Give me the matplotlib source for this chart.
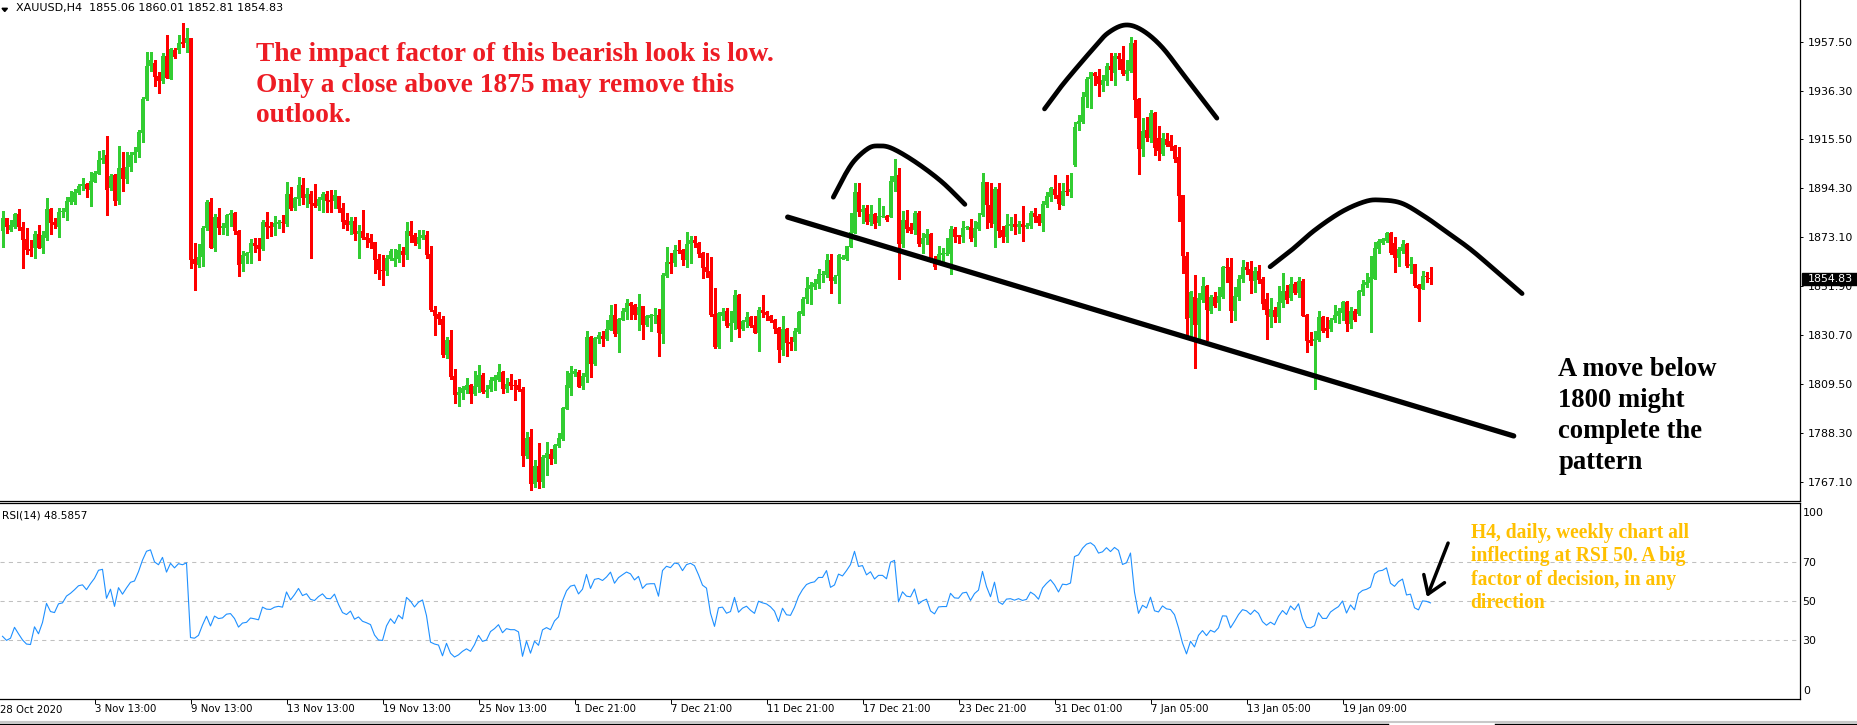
import numpy as np
import matplotlib
matplotlib.use("Agg")
import matplotlib.pyplot as plt
from matplotlib.patches import Rectangle, Polygon
from matplotlib.lines import Line2D
from matplotlib.transforms import blended_transform_factory

# ---------------- data (XAUUSD H4 candles) ----------------
OPEN = [
    1875.6, 1881.3, 1876.0, 1877.5, 1882.9, 1877.5, 1872.0, 1867.8, 1868.4, 1874.5,
    1868.4, 1872.7, 1885.1, 1879.3, 1877.5, 1883.6, 1883.9, 1888.3, 1888.3, 1892.2,
    1895.2, 1895.9, 1893.5, 1896.9, 1900.3, 1906.4, 1908.4, 1894.0, 1899.8, 1888.7,
    1902.7, 1898.2, 1903.1, 1908.4, 1909.6, 1918.1, 1932.5, 1947.0, 1948.4, 1942.7,
    1940.6, 1951.3, 1941.3, 1953.9, 1953.9, 1957.2, 1956.8, 1959.0, 1863.3, 1860.9,
    1864.5, 1876.7, 1888.0, 1868.4, 1881.8, 1877.0, 1877.0, 1882.5, 1883.2, 1875.6,
    1861.2, 1864.8, 1865.9, 1870.5, 1869.5, 1867.8, 1879.6, 1877.7, 1877.2, 1878.8,
    1879.2, 1878.5, 1891.6, 1885.4, 1889.4, 1895.5, 1890.0, 1891.6, 1887.5, 1886.5,
    1888.8, 1891.6, 1889.0, 1888.5, 1890.7, 1885.4, 1880.3, 1878.2, 1880.0, 1874.5,
    1875.6, 1872.8, 1872.4, 1870.8, 1863.5, 1858.7, 1858.4, 1863.5, 1862.8, 1863.5,
    1866.9, 1865.2, 1875.6, 1873.9, 1870.1, 1872.7, 1873.9, 1865.6, 1841.4, 1839.7,
    1837.5, 1821.9, 1828.4, 1812.8, 1804.6, 1805.3, 1806.8, 1809.0, 1805.2, 1808.2,
    1813.3, 1806.1, 1807.1, 1810.8, 1811.1, 1814.6, 1807.2, 1810.1, 1809.0, 1808.8,
    1807.1, 1778.2, 1786.6, 1766.3, 1773.9, 1767.0, 1777.5, 1779.1, 1776.9, 1782.7,
    1785.7, 1798.7, 1807.7, 1813.9, 1814.6, 1808.5, 1812.6, 1829.7, 1818.0, 1828.9,
    1830.2, 1828.9, 1832.8, 1839.2, 1831.0, 1837.1, 1840.5, 1844.4, 1843.6, 1839.2,
    1843.1, 1834.9, 1837.9, 1838.8, 1839.2, 1831.2, 1856.1, 1862.2, 1861.7, 1867.4,
    1867.4, 1863.0, 1870.0, 1871.7, 1870.4, 1866.1, 1860.0, 1858.3, 1839.7, 1825.4,
    1838.8, 1841.0, 1834.6, 1835.6, 1847.9, 1833.2, 1836.4, 1838.5, 1834.9, 1831.6,
    1841.4, 1840.7, 1839.0, 1837.1, 1833.8, 1824.1, 1833.2, 1827.7, 1827.7, 1831.7,
    1839.7, 1846.2, 1850.5, 1851.5, 1852.7, 1856.7, 1856.7, 1863.0, 1853.9, 1856.1,
    1863.5, 1863.5, 1868.8, 1874.9, 1892.6, 1884.0, 1885.5, 1879.6, 1882.9, 1878.9,
    1881.5, 1882.1, 1881.8, 1896.9, 1899.8, 1870.0, 1880.3, 1877.2, 1876.0, 1883.5,
    1869.8, 1872.4, 1874.3, 1863.0, 1862.7, 1865.3, 1865.5, 1865.5, 1876.3, 1873.7,
    1873.1, 1876.9, 1877.2, 1872.6, 1876.3, 1882.5, 1896.8, 1886.8, 1878.6, 1893.6,
    1876.0, 1872.8, 1877.7, 1878.6, 1877.2, 1878.6, 1877.2, 1877.7, 1883.5, 1882.1,
    1878.9, 1886.8, 1890.4, 1893.8, 1891.2, 1886.8, 1893.0, 1892.6, 1904.1, 1921.7,
    1922.9, 1933.4, 1941.4, 1944.1, 1942.7, 1938.8, 1940.5, 1947.1, 1944.1, 1951.3,
    1950.0, 1943.5, 1945.0, 1957.1, 1932.7, 1911.1, 1919.3, 1915.7, 1926.8, 1915.7,
    1908.9, 1915.4, 1914.5, 1912.4, 1907.8, 1891.2, 1864.8, 1838.1, 1846.9, 1834.9,
    1845.7, 1851.8, 1841.0, 1846.9, 1844.3, 1846.9, 1860.0, 1859.9, 1841.0, 1847.2,
    1854.7, 1860.2, 1859.1, 1854.1, 1858.3, 1855.0, 1846.2, 1838.5, 1841.4, 1838.5,
    1844.3, 1849.8, 1846.7, 1852.7, 1848.6, 1853.9, 1839.2, 1828.4, 1828.0, 1828.4,
    1838.5, 1833.5, 1833.0, 1837.1, 1839.0, 1840.3, 1845.0, 1835.3, 1841.1, 1839.7,
    1849.3, 1852.2, 1852.9, 1855.0, 1867.8, 1870.5, 1871.4, 1874.6, 1870.5, 1864.0,
    1867.1, 1870.1, 1860.6, 1861.2, 1852.2, 1850.3, 1856.1, 1855.06,
]
HIGH = [
    1884.2, 1881.3, 1880.3, 1883.4, 1885.1, 1879.3, 1876.7, 1871.7, 1875.6, 1878.2,
    1875.6, 1890.0, 1885.7, 1881.0, 1885.7, 1885.7, 1890.4, 1892.9, 1893.6, 1895.9,
    1898.4, 1896.2, 1900.9, 1901.5, 1910.2, 1910.6, 1916.8, 1900.1, 1900.1, 1912.4,
    1909.9, 1909.9, 1909.9, 1911.8, 1919.3, 1933.4, 1952.9, 1952.9, 1949.6, 1944.5,
    1952.5, 1960.4, 1954.9, 1954.6, 1960.4, 1965.4, 1963.3, 1959.0, 1870.5, 1869.8,
    1877.9, 1889.0, 1890.0, 1882.8, 1885.7, 1878.9, 1882.8, 1884.7, 1883.6, 1876.0,
    1866.9, 1866.4, 1872.1, 1872.7, 1872.7, 1880.3, 1883.9, 1879.6, 1882.2, 1880.3,
    1882.5, 1896.9, 1894.8, 1890.4, 1899.1, 1898.4, 1894.0, 1893.0, 1895.8, 1890.4,
    1892.3, 1892.9, 1893.3, 1893.3, 1890.9, 1887.5, 1883.5, 1881.8, 1881.8, 1878.2,
    1884.7, 1874.6, 1874.3, 1870.8, 1865.5, 1865.2, 1865.2, 1867.8, 1867.8, 1870.0,
    1868.8, 1879.5, 1879.9, 1874.6, 1876.0, 1876.0, 1875.6, 1869.1, 1843.1, 1840.4,
    1838.8, 1829.9, 1832.8, 1815.9, 1807.9, 1808.5, 1811.8, 1809.4, 1815.2, 1817.6,
    1814.0, 1809.0, 1812.6, 1813.3, 1818.0, 1815.2, 1811.8, 1813.7, 1811.1, 1811.5,
    1807.9, 1788.8, 1789.9, 1776.5, 1783.9, 1778.8, 1784.3, 1781.1, 1783.4, 1788.2,
    1799.6, 1815.2, 1817.3, 1815.9, 1815.4, 1814.0, 1832.3, 1830.2, 1829.7, 1831.7,
    1832.3, 1837.1, 1843.6, 1844.0, 1837.8, 1842.3, 1846.3, 1845.0, 1844.0, 1848.3,
    1843.1, 1839.2, 1839.7, 1842.3, 1841.8, 1857.4, 1868.7, 1865.9, 1869.5, 1871.7,
    1867.8, 1875.2, 1873.4, 1873.4, 1870.8, 1866.5, 1866.1, 1864.3, 1850.9, 1840.6,
    1842.1, 1842.1, 1841.1, 1850.1, 1848.3, 1837.1, 1840.4, 1839.0, 1838.8, 1842.8,
    1847.9, 1841.1, 1839.2, 1837.4, 1834.2, 1838.8, 1833.5, 1829.9, 1833.5, 1841.0,
    1846.9, 1855.5, 1853.7, 1854.7, 1859.0, 1858.4, 1865.6, 1865.6, 1856.5, 1865.5,
    1865.2, 1869.2, 1883.5, 1896.5, 1896.2, 1886.8, 1886.7, 1886.8, 1883.2, 1889.7,
    1886.4, 1882.5, 1899.4, 1906.7, 1902.7, 1884.4, 1884.7, 1879.2, 1884.2, 1884.2,
    1874.9, 1876.3, 1874.6, 1864.8, 1869.1, 1868.1, 1872.4, 1877.7, 1877.2, 1873.8,
    1879.8, 1877.7, 1880.6, 1879.9, 1883.5, 1900.5, 1896.9, 1896.2, 1894.8, 1896.5,
    1877.7, 1882.9, 1881.8, 1882.9, 1880.1, 1886.4, 1879.2, 1884.2, 1885.4, 1882.9,
    1888.7, 1892.6, 1894.8, 1899.8, 1896.2, 1896.5, 1899.8, 1900.5, 1922.9, 1925.8,
    1935.9, 1942.4, 1944.5, 1944.5, 1945.5, 1943.1, 1948.4, 1952.8, 1952.5, 1952.5,
    1955.6, 1949.6, 1959.7, 1958.2, 1933.0, 1924.6, 1925.1, 1928.0, 1927.1, 1921.0,
    1918.1, 1917.9, 1917.1, 1912.8, 1912.1, 1891.2, 1866.4, 1849.8, 1856.6, 1848.6,
    1855.5, 1852.2, 1847.9, 1849.3, 1851.5, 1860.4, 1863.8, 1863.8, 1851.5, 1856.6,
    1863.0, 1862.3, 1862.8, 1860.2, 1860.9, 1855.8, 1848.6, 1846.5, 1842.6, 1851.9,
    1857.3, 1852.2, 1855.8, 1853.7, 1855.8, 1854.7, 1839.5, 1832.0, 1832.5, 1841.0,
    1838.8, 1838.5, 1837.8, 1843.6, 1842.1, 1845.3, 1845.3, 1842.6, 1841.7, 1850.1,
    1854.4, 1857.6, 1864.8, 1871.0, 1872.0, 1872.4, 1875.3, 1875.0, 1872.9, 1868.5,
    1871.7, 1870.3, 1864.2, 1861.3, 1852.7, 1858.3, 1858.0, 1860.01,
]
LOW = [
    1868.8, 1874.9, 1875.6, 1876.7, 1876.0, 1859.7, 1865.5, 1864.9, 1864.0, 1868.4,
    1866.2, 1871.7, 1874.3, 1877.0, 1873.1, 1881.8, 1880.5, 1887.2, 1887.2, 1891.7,
    1893.3, 1890.4, 1886.4, 1896.9, 1900.3, 1904.8, 1882.5, 1893.3, 1886.8, 1887.2,
    1893.0, 1896.2, 1901.7, 1905.6, 1907.7, 1914.2, 1932.3, 1944.8, 1938.3, 1935.4,
    1939.5, 1941.6, 1941.2, 1950.6, 1952.5, 1955.3, 1953.2, 1859.4, 1850.0, 1860.2,
    1860.6, 1876.0, 1868.1, 1866.9, 1874.5, 1874.3, 1873.9, 1877.9, 1874.1, 1856.2,
    1858.3, 1861.6, 1861.6, 1866.6, 1863.0, 1867.4, 1872.7, 1873.6, 1873.9, 1876.7,
    1875.3, 1877.9, 1884.7, 1884.7, 1886.8, 1887.4, 1886.1, 1864.0, 1886.1, 1884.7,
    1883.9, 1883.9, 1883.6, 1885.4, 1883.9, 1876.7, 1876.0, 1874.5, 1871.7, 1863.8,
    1872.1, 1868.8, 1868.4, 1857.6, 1855.0, 1852.4, 1856.5, 1863.0, 1860.4, 1862.3,
    1860.4, 1863.3, 1871.0, 1869.5, 1868.2, 1872.1, 1864.1, 1841.1, 1830.6, 1835.2,
    1821.2, 1820.8, 1811.5, 1801.3, 1799.9, 1803.0, 1805.3, 1801.3, 1804.5, 1806.1,
    1805.6, 1803.9, 1806.5, 1806.8, 1810.8, 1805.6, 1806.1, 1807.1, 1802.5, 1806.4,
    1773.9, 1777.5, 1763.5, 1765.0, 1764.2, 1765.0, 1770.0, 1774.8, 1775.3, 1782.3,
    1785.1, 1798.4, 1804.6, 1812.8, 1807.9, 1807.1, 1810.4, 1812.4, 1817.6, 1827.0,
    1825.8, 1828.4, 1832.8, 1830.2, 1823.2, 1837.1, 1837.7, 1837.7, 1837.5, 1832.8,
    1828.9, 1834.5, 1832.3, 1835.6, 1821.5, 1827.1, 1855.8, 1857.4, 1860.4, 1866.2,
    1860.7, 1860.0, 1861.7, 1868.7, 1864.3, 1855.3, 1855.7, 1839.0, 1824.8, 1824.8,
    1837.1, 1834.2, 1828.0, 1833.2, 1829.9, 1832.7, 1834.2, 1834.2, 1831.3, 1823.8,
    1838.5, 1837.1, 1836.1, 1831.3, 1819.0, 1821.9, 1821.6, 1824.1, 1824.1, 1831.3,
    1839.2, 1844.3, 1844.0, 1850.5, 1850.8, 1853.7, 1855.8, 1848.9, 1852.9, 1844.6,
    1863.3, 1863.0, 1868.8, 1874.6, 1882.1, 1878.9, 1878.6, 1878.2, 1877.0, 1878.2,
    1881.5, 1880.1, 1881.5, 1892.9, 1855.0, 1868.8, 1875.0, 1874.6, 1874.3, 1869.1,
    1866.2, 1870.0, 1862.3, 1859.0, 1861.6, 1862.3, 1865.2, 1856.8, 1871.0, 1870.5,
    1871.0, 1876.6, 1871.4, 1869.1, 1876.0, 1882.2, 1876.7, 1877.2, 1868.8, 1872.8,
    1871.0, 1871.0, 1876.0, 1874.1, 1874.6, 1871.4, 1876.7, 1876.7, 1879.5, 1878.2,
    1875.7, 1886.1, 1888.7, 1889.7, 1885.1, 1886.7, 1891.2, 1890.2, 1903.8, 1919.3,
    1922.2, 1929.1, 1928.7, 1938.8, 1934.2, 1936.3, 1938.8, 1940.9, 1938.8, 1945.5,
    1943.1, 1940.9, 1944.5, 1925.1, 1900.3, 1908.0, 1914.7, 1914.2, 1908.5, 1906.3,
    1908.5, 1912.5, 1910.6, 1905.3, 1879.9, 1857.6, 1830.2, 1829.1, 1816.5, 1828.4,
    1845.0, 1828.4, 1840.0, 1842.6, 1841.4, 1846.5, 1853.7, 1836.4, 1837.1, 1845.7,
    1853.7, 1857.0, 1848.9, 1849.3, 1852.9, 1841.7, 1828.9, 1833.9, 1836.1, 1836.4,
    1842.8, 1844.3, 1845.7, 1848.2, 1847.2, 1838.8, 1823.1, 1826.3, 1807.2, 1828.0,
    1832.0, 1829.9, 1832.3, 1836.4, 1835.9, 1837.1, 1832.5, 1833.5, 1836.6, 1839.2,
    1847.9, 1851.5, 1832.0, 1854.7, 1865.9, 1870.0, 1871.0, 1865.5, 1858.0, 1860.4,
    1865.9, 1860.2, 1857.3, 1851.5, 1836.8, 1850.3, 1853.7, 1852.81,
]
CLOSE = [
    1881.3, 1877.3, 1878.2, 1882.9, 1877.5, 1871.7, 1867.4, 1866.9, 1874.5, 1868.4,
    1873.9, 1885.1, 1879.0, 1878.2, 1883.6, 1884.2, 1888.5, 1890.3, 1892.6, 1895.2,
    1895.8, 1893.6, 1897.2, 1900.6, 1906.3, 1907.0, 1893.5, 1899.4, 1888.7, 1902.7,
    1898.2, 1903.4, 1908.4, 1909.6, 1918.6, 1932.7, 1947.0, 1949.6, 1942.4, 1940.6,
    1951.3, 1941.6, 1954.2, 1951.0, 1957.1, 1956.4, 1959.0, 1863.0, 1861.2, 1864.5,
    1876.7, 1888.0, 1868.4, 1881.8, 1877.0, 1877.9, 1882.5, 1883.2, 1875.6, 1860.9,
    1865.2, 1865.9, 1870.2, 1869.1, 1867.8, 1879.6, 1877.3, 1877.0, 1878.9, 1879.6,
    1878.9, 1891.6, 1885.1, 1889.7, 1895.5, 1890.0, 1891.6, 1887.4, 1886.5, 1889.4,
    1891.4, 1888.5, 1888.3, 1891.2, 1885.1, 1879.6, 1878.2, 1880.0, 1874.5, 1875.6,
    1872.7, 1871.7, 1870.5, 1863.0, 1858.7, 1858.4, 1863.9, 1866.9, 1863.9, 1867.4,
    1865.2, 1875.6, 1873.6, 1870.4, 1872.8, 1873.9, 1865.2, 1841.4, 1839.0, 1837.7,
    1821.9, 1828.4, 1812.3, 1804.6, 1805.8, 1807.7, 1809.0, 1805.2, 1808.5, 1813.3,
    1806.1, 1806.8, 1811.1, 1812.6, 1814.6, 1807.4, 1809.4, 1808.5, 1808.5, 1806.8,
    1778.2, 1786.2, 1766.3, 1773.9, 1767.0, 1777.8, 1779.5, 1776.8, 1783.0, 1786.0,
    1799.1, 1809.0, 1814.1, 1815.2, 1808.2, 1812.8, 1829.7, 1818.0, 1829.4, 1830.6,
    1829.0, 1833.2, 1839.2, 1831.0, 1837.5, 1841.0, 1844.3, 1843.1, 1839.2, 1842.8,
    1834.9, 1838.8, 1839.2, 1839.2, 1831.5, 1856.5, 1862.2, 1861.3, 1867.4, 1866.9,
    1863.0, 1870.0, 1871.7, 1870.4, 1865.6, 1859.6, 1857.8, 1839.2, 1825.3, 1840.1,
    1840.7, 1834.6, 1835.9, 1847.9, 1833.2, 1836.8, 1838.5, 1834.6, 1831.6, 1841.4,
    1840.0, 1839.1, 1836.8, 1833.3, 1824.1, 1833.2, 1827.3, 1826.8, 1832.3, 1840.4,
    1846.2, 1850.8, 1852.4, 1853.2, 1857.0, 1857.0, 1863.0, 1853.9, 1855.8, 1865.2,
    1864.2, 1869.1, 1875.2, 1892.6, 1884.0, 1885.1, 1879.6, 1882.9, 1878.6, 1882.1,
    1882.1, 1880.3, 1897.2, 1899.5, 1870.0, 1880.3, 1876.3, 1875.7, 1883.5, 1869.8,
    1872.7, 1874.3, 1863.0, 1859.9, 1865.6, 1865.9, 1865.9, 1876.6, 1873.1, 1872.8,
    1876.9, 1877.5, 1872.1, 1877.0, 1879.6, 1896.8, 1886.7, 1878.9, 1893.6, 1875.7,
    1873.1, 1878.2, 1878.6, 1877.3, 1878.6, 1877.2, 1878.0, 1883.5, 1881.8, 1878.9,
    1887.1, 1890.9, 1894.0, 1891.2, 1887.1, 1892.9, 1892.6, 1893.8, 1920.7, 1923.2,
    1933.7, 1941.4, 1944.2, 1942.7, 1939.1, 1940.9, 1947.1, 1945.3, 1951.3, 1950.0,
    1943.5, 1945.3, 1957.1, 1932.3, 1911.1, 1918.9, 1916.0, 1926.8, 1911.6, 1910.2,
    1916.0, 1912.8, 1912.1, 1906.7, 1890.9, 1864.8, 1837.5, 1849.3, 1834.9, 1846.7,
    1851.8, 1841.4, 1846.9, 1843.3, 1847.5, 1859.9, 1859.6, 1841.0, 1847.5, 1854.8,
    1860.2, 1858.7, 1854.1, 1858.3, 1854.4, 1844.0, 1839.2, 1841.7, 1838.5, 1845.0,
    1849.8, 1845.7, 1852.7, 1848.9, 1853.9, 1838.8, 1828.0, 1827.3, 1828.9, 1838.5,
    1832.5, 1832.5, 1837.1, 1839.2, 1841.0, 1845.0, 1835.3, 1841.1, 1837.1, 1849.8,
    1852.7, 1853.7, 1855.5, 1868.1, 1871.3, 1872.0, 1874.6, 1865.9, 1864.0, 1867.9,
    1870.1, 1860.6, 1861.2, 1851.9, 1850.3, 1856.1, 1855.8, 1854.83,
]

PRICE_TICKS = [1767.10, 1788.30, 1809.50, 1830.70, 1851.90, 1873.10,
               1894.30, 1915.50, 1936.30, 1957.50]
RSI_TICKS = [30, 50, 70]
RSI_LEVELS = [30, 50, 70]
TIME_TICK_BARS = [24, 48, 72, 96, 120, 144, 168, 192, 216, 240, 264, 288, 312, 336]
TIME_LABELS = ["3 Nov 13:00", "9 Nov 13:00", "13 Nov 13:00", "19 Nov 13:00",
               "25 Nov 13:00", "1 Dec 21:00", "7 Dec 21:00", "11 Dec 21:00",
               "17 Dec 21:00", "23 Dec 21:00", "31 Dec 01:00", "7 Jan 05:00",
               "13 Jan 05:00", "19 Jan 09:00"]
FIRST_LABEL = "28 Oct 2020"
RSI_PERIOD = 14
RSI_SEED_GAIN, RSI_SEED_LOSS = 1.4, 3.0     # Wilder averages before the first bar
RSI_TEXT = "RSI(14) 48.5857"

# hand-drawn annotation strokes, in (bar index, price)
ARC1 = [(207.7, 1890.2), (210.6, 1899.8), (213.1, 1906.3), (216.5, 1911.4), (219.0, 1912.4),
        (222.3, 1911.4), (228.1, 1905.6), (234.8, 1896.9), (240.6, 1887.1)]
ARC2 = [(260.5, 1928.4), (264.4, 1937.5), (268.1, 1945.3), (273.1, 1955.3), (276.4, 1961.3),
        (280.6, 1964.7), (284.8, 1962.6), (289.8, 1955.3), (295.6, 1942.4), (303.6, 1924.4)]
ARC3 = [(316.9, 1860.1), (322.3, 1867.4), (328.1, 1876.0), (334.8, 1883.9), (340.6, 1888.3),
        (344.4, 1889.0), (349.8, 1887.6), (355.6, 1881.8), (360.6, 1875.7), (366.9, 1867.8),
        (373.1, 1858.7), (379.9, 1848.5)]
TREND = [(196.3, 1881.6), (377.8, 1786.9)]
RSI_ARROW = ((361.4, 79.5), (356.1, 51.9))   # tail, head

# ---------------- helpers ----------------
W, H = 1857, 725
def fx(px): return px / W
def fy(py): return 1 - py / H

def catmull(points, n=24):
    P = np.asarray(points, float)
    P = np.vstack([P[0], P, P[-1]])
    out = []
    t = np.linspace(0, 1, n, endpoint=False)[:, None]
    for k in range(1, len(P) - 2):
        p0, p1, p2, p3 = P[k - 1], P[k], P[k + 1], P[k + 2]
        out.append(0.5 * (2 * p1 + (-p0 + p2) * t + (2 * p0 - 5 * p1 + 4 * p2 - p3) * t ** 2
                          + (-p0 + 3 * p1 - 3 * p2 + p3) * t ** 3))
    out.append(P[-2][None, :])
    return np.vstack(out)

def wilder_rsi(close, period, g0, l0):
    ag, al = g0, l0
    out = [100 * ag / (ag + al)]
    for k in range(1, len(close)):
        d = close[k] - close[k - 1]
        ag = (ag * (period - 1) + max(d, 0)) / period
        al = (al * (period - 1) + max(-d, 0)) / period
        out.append(100 * ag / (ag + al))
    return np.array(out)

O = np.array(OPEN); Hh = np.array(HIGH); L = np.array(LOW); C = np.array(CLOSE)
idx = np.arange(len(C))
rsi = wilder_rsi(C, RSI_PERIOD, RSI_SEED_GAIN, RSI_SEED_LOSS)

GREEN, RED = "#32CD32", "#FF0000"

# ---------------- figure ----------------
fig = plt.figure(figsize=(W / 100, H / 100), dpi=100)
fig.patch.set_facecolor("white")

ax = fig.add_axes([0, fy(501), fx(1800), 501 / H])
axr = fig.add_axes([0, fy(698.5), fx(1800), 195.5 / H])

for a in (ax, axr):
    a.set_xlim(-0.625, 449.375)
    a.set_facecolor("white")
    for s in a.spines.values():
        s.set_linewidth(0.9)
        s.set_color("black")
    a.spines["left"].set_visible(False)
ax.spines["top"].set_visible(False)

# candles
up = C >= O
cols = np.where(up, GREEN, RED)
ax.vlines(idx, L, Hh, colors=cols, linewidth=0.8, antialiased=False, zorder=2)
body_lo = np.minimum(O, C)
body_h = np.maximum(np.abs(C - O), 0.45)
ax.bar(idx, body_h, bottom=body_lo, width=0.72, color=cols, linewidth=0,
       antialiased=False, zorder=3)

ax.set_ylim(1758.75, 1975.54)
ax.yaxis.tick_right()
ax.set_yticks(PRICE_TICKS)
ax.set_yticklabels([f"{v:.2f}" for v in PRICE_TICKS])
ax.tick_params(axis="y", length=2.5, width=0.7, pad=3.3, labelsize=7.9, colors="black")
ax.set_xticks([])

# annotation strokes
for arc in (ARC1, ARC2, ARC3):
    pts = catmull(arc)
    ax.plot(pts[:, 0], pts[:, 1], color="black", lw=3.4, solid_capstyle="round",
            solid_joinstyle="round", zorder=5)
ax.plot([p[0] for p in TREND], [p[1] for p in TREND], color="black", lw=3.8,
        solid_capstyle="round", zorder=5)

# RSI panel
for lv in RSI_LEVELS:
    axr.axhline(lv, color="#C0C0C0", lw=0.75, ls=(0, (4, 4)), zorder=1)
axr.plot(idx, rsi, color="#1E90FF", lw=0.8, zorder=3)
axr.set_ylim(0, 100)
axr.yaxis.tick_right()
axr.set_yticks(RSI_TICKS)
axr.set_yticklabels([str(v) for v in RSI_TICKS])
axr.tick_params(axis="y", length=0, pad=1.8, labelsize=7.9, colors="black")

axr.set_xticks([b - 0.875 for b in TIME_TICK_BARS])
axr.set_xticklabels(TIME_LABELS)
axr.tick_params(axis="x", length=3.6, width=0.7, pad=0.4, labelsize=7.3, colors="black")
for t in axr.get_xticklabels():
    t.set_horizontalalignment("left")

(tx, ty), (hx, hy) = RSI_ARROW
axr.annotate("", xy=(hx, hy), xytext=(tx, ty),
             arrowprops=dict(arrowstyle="->,head_length=0.6,head_width=0.4",
                             lw=2.5, color="black", mutation_scale=20,
                             shrinkA=0, shrinkB=0), zorder=6)

# RSI extra labels
fig.text(fx(1803), fy(513), "100", fontsize=7.9, va="center", ha="left")
fig.text(fx(1803), fy(691), "0", fontsize=7.9, va="center", ha="left")
fig.text(fx(2), fy(516), RSI_TEXT, fontsize=7.6, va="center", ha="left")

# header
fig.add_artist(Polygon([[fx(2), fy(8.3)], [fx(7.5), fy(8.3)], [fx(4.75), fy(11.5)]],
                       closed=True, transform=fig.transFigure, color="black"))
fig.text(fx(16), fy(8.5), f"XAUUSD,H4  {O[-1]:.2f} {Hh[-1]:.2f} {L[-1]:.2f} {C[-1]:.2f}",
         fontsize=8, va="center", ha="left")

# last price tag
bt = blended_transform_factory(fig.transFigure, ax.transData)
tag_h = 12.6 / 2.311
fig.add_artist(Rectangle((fx(1801.5), C[-1] - tag_h / 2), fx(1857) - fx(1801.5), tag_h,
                         transform=bt, color="black", zorder=4))
fig.text(fx(1807.7), C[-1], f"{C[-1]:.2f}", transform=bt, color="white",
         fontsize=7.9, va="center", ha="left", zorder=5)

# first date label
fig.text(fx(0.5), fy(709.6), FIRST_LABEL, fontsize=7.3, va="center", ha="left")

# commentary texts
serif = "Liberation Serif"
red_lines = ["The impact factor of this bearish look is low.",
             "Only a close above 1875 may remove this", "outlook."]
for k, s in enumerate(red_lines):
    fig.text(fx(256), fy(60.7 + 30.8 * k), s, family=serif, weight="bold",
             fontsize=19.7, color="#ED1C24", va="baseline", ha="left")
blk_lines = ["A move below", "1800 might", "complete the", "pattern"]
for k, s in enumerate(blk_lines):
    fig.text(fx(1558.5), fy(376 + 31 * k), s, family=serif, weight="bold",
             fontsize=19.2, color="black", va="baseline", ha="left")
org_lines = ["H4, daily, weekly chart all", "inflecting at RSI 50. A big",
             "factor of decision, in any", "direction"]
for k, s in enumerate(org_lines):
    fig.text(fx(1470.7), fy(538.3 + 23.2 * k), s, family=serif, weight="bold",
             fontsize=14.1, color="#FFC000", va="baseline", ha="left")

# bottom window lines
fig.add_artist(Line2D([0, 1], [fy(721.7)] * 2, transform=fig.transFigure,
                      color="#C8C8C8", lw=1.5))
fig.add_artist(Line2D([0, fx(1388)], [fy(724.4)] * 2, transform=fig.transFigure,
                      color="black", lw=1.0))
fig.add_artist(Line2D([fx(1495), 1], [fy(724.4)] * 2, transform=fig.transFigure,
                      color="black", lw=1.0))

fig.savefig("out.png", dpi=100, facecolor="white")
